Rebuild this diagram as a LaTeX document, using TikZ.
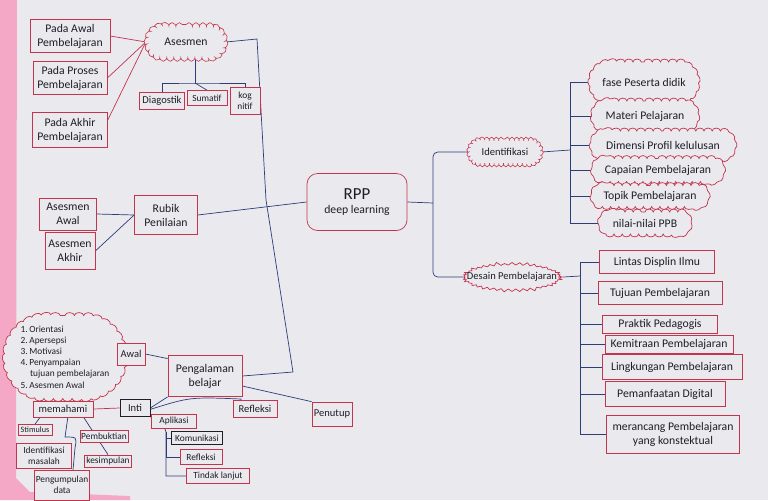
\documentclass[tikz,border=0pt]{standalone}
\usepackage{fontspec}
\setmainfont{Carlito}
\usetikzlibrary{shapes.symbols, shapes.misc, decorations.pathmorphing, backgrounds, positioning}

\definecolor{paper}{RGB}{234,233,238}
\definecolor{strip}{RGB}{244,168,198}
\definecolor{redpen}{RGB}{196,52,76}
\definecolor{bluepen}{RGB}{44,62,122}
\definecolor{ink}{RGB}{30,30,38}

\begin{document}
\begin{tikzpicture}[
        x=0.03cm, y=-0.03cm,
        wh/.code 2 args={\pgfmathsetlengthmacro\whw{#1*0.8536pt}\pgfmathsetlengthmacro\whh{#2*0.8536pt}%
            \edef\whset{\noexpand\tikzset{minimum width=\whw, minimum height=\whh}}\whset},
        box/.style={draw=redpen, line width=0.6pt, fill=paper, rectangle, inner sep=1pt, align=center, text=ink},
        blackbox/.style={box, draw=ink},
        loopy/.style={rounded rectangle, draw=redpen, line width=0.5pt, fill=paper, inner sep=1pt, text=ink, align=center,
            decorate, decoration={coil, aspect=0.6, segment length=#1, amplitude=1.6pt}},
        puff/.style={rounded rectangle, draw=redpen, line width=0.6pt, fill=paper, inner sep=1pt, text=ink, align=left,
            decorate, decoration={bumps, segment length=#1, amplitude=2.5pt}},
        burst/.style={starburst, starburst points=40, starburst point height=3pt, draw=redpen, line width=0.6pt, fill=paper, inner sep=0pt},
        link/.style={draw=bluepen, line width=0.6pt},
        redlink/.style={draw=redpen, line width=0.6pt}
    ]
\useasboundingbox (0,0) rectangle (768,500);
\begin{scope}[on background layer]
    \fill[paper] (0,0) rectangle (768,500);
    \fill[strip] (0,0) -- (17,0) -- (16,478) -- (30,492) -- (130,496) -- (130,500) -- (0,500) -- cycle;
\end{scope}

% Asesmen
\node[loopy=6pt, wh={82}{35}] (asesmen) at (186,42) {Asesmen};
\node[box, wh={80}{33}] (pawal) at (70,36) {Pada Awal\\Pembelajaran};
\node[box, wh={74}{33}] (pproses) at (70,78) {Pada Proses\\Pembelajaran};
\node[box, wh={75}{35}] (pakhir) at (70,130) {Pada Akhir\\Pembelajaran};
\node[box, wh={45}{17}, font=\small] (diag) at (162,101) {Diagostik};
\node[box, wh={40}{15}, font=\footnotesize] (sumatif) at (207,98) {Sumatif};
\node[box, wh={30}{27}, font=\footnotesize] (kog) at (245,101) {kog\\nitif};

% Rubik
\node[box, wh={63}{39}] (rubik) at (166,215) {Rubik\\Penilaian};
\node[box, wh={57}{32}] (asawal) at (68,214) {Asesmen\\Awal};
\node[box, wh={50}{37}] (asakhir) at (70,251) {Asesmen\\Akhir};

% RPP
\node[box, rounded corners=9pt, wh={100}{57}] (rpp) at (357,202) {{\Large RPP}\\deep learning};

% Identifikasi
\node[loopy=4pt, wh={75}{26}, font=\small] (ident) at (505,152) {Identifikasi};
\node[puff=14pt, wh={108}{40}] (fase) at (644,82) {fase Peserta didik};
\node[puff=14pt, wh={105}{30}] (materi) at (645,116) {Materi Pelajaran};
\node[puff=14pt, wh={143}{28}] (dimensi) at (663,145) {Dimensi Profil kelulusan};
\node[puff=14pt, wh={130}{23}] (capaian) at (658,170) {Capaian Pembelajaran};
\node[puff=14pt, wh={115}{21}] (topik) at (650,196) {Topik Pembelajaran};
\node[puff=14pt, wh={90}{22}] (nilai) at (645,223) {nilai-nilai PPB};

% Desain
\node[burst, wh={101}{31}, label={[font=\small, text=ink]center:Desain Pembelajaran}] (desain) at (512,277) {};
\node[box, wh={115}{23}] (lintas) at (657,262) {Lintas Displin Ilmu};
\node[box, wh={124}{23}] (tujuan) at (660,293) {Tujuan Pembelajaran};
\node[box, wh={115}{18}] (praktik) at (660,324) {Praktik Pedagogis};
\node[box, wh={128}{18}] (kemitraan) at (669,344) {Kemitraan Pembelajaran};
\node[box, wh={140}{25}] (lingkungan) at (672,367) {Lingkungan Pembelajaran};
\node[box, wh={120}{25}] (digital) at (665,394) {Pemanfaatan Digital};
\node[box, wh={133}{38}] (rancang) at (673,434) {merancang Pembelajaran\\yang konstektual};

% Pengalaman belajar
\node[puff=16pt, wh={100}{83}, font=\footnotesize] (pembuka) at (65,357) {1.\,Orientasi\\2.\,Apersepsi\\3.\,Motivasi\\4.\,Penyampaian\\\quad tujuan pembelajaran\\5.\,Asesmen Awal};
\node[box, wh={28}{22}, font=\small] (awal) at (131,354) {Awal};
\node[box, wh={74}{41}] (pengalaman) at (205,376) {Pengalaman\\belajar};
\node[box, wh={40}{24}, font=\small] (penutup) at (332,414) {Penutup};
\node[blackbox, wh={30}{17}, font=\small] (inti) at (135,408) {Inti};
\node[box, wh={44}{17}, font=\small] (refleksiA) at (255,409) {Refleksi};
\node[box, wh={60}{16}, font=\small] (memahami) at (63,409) {memahami};
\node[box, wh={45}{14}, font=\footnotesize] (aplikasi) at (174,421) {Aplikasi};
\node[blackbox, wh={51}{13}, font=\footnotesize] (komunikasi) at (197,438) {Komunikasi};
\node[box, wh={42}{15}, font=\footnotesize] (refleksiB) at (201,457) {Refleksi};
\node[box, wh={63}{15}, font=\footnotesize] (tindak) at (218,476) {Tindak lanjut};
\node[box, wh={34}{11}, font=\scriptsize] (stimulus) at (35,430) {Stimulus};
\node[box, wh={55}{25}, font=\footnotesize] (idmasalah) at (44,456) {Identifikasi\\masalah};
\node[box, wh={55}{30}, font=\footnotesize] (kumpul) at (62,485) {Pengumpulan\\data};
\node[box, wh={48}{12}, font=\footnotesize] (bukti) at (104,436) {Pembuktian};
\node[box, wh={47}{12}, font=\footnotesize] (simpul) at (108,461) {kesimpulan};

\coordinate (jA) at (195,83);
\coordinate (sp1) at (257,39);
\coordinate (sp2) at (266,200);
\coordinate (sp3) at (293,372);
\coordinate (jR) at (433,203);
\coordinate (jI) at (570,150);
\coordinate (jD) at (580,276);
\coordinate (rk) at (241,399);
\coordinate (jT) at (166,432);
\coordinate (m1) at (65,437);
\coordinate (m2) at (75,448);
\coordinate (kp) at (73,470);

\begin{scope}[on background layer]
    \draw[redlink] (pawal.east) -- (asesmen.west);
    \draw[redlink] (pproses.east) -- (asesmen.west);
    \draw[redlink] (pakhir.15) -- (asesmen.west);
    \draw[link] (asesmen.south -| jA) -- (jA);
    \draw[link] (diag.north) |- (jA) -| (kog.north);
    \draw[link] (jA) -- (sumatif.north);
    \draw[link] (asesmen.east) -- (sp1) -- (sp2) -- (sp3) -- (pengalaman.east);

    \draw[link] (asawal.east) -- (rubik.west);
    \draw[link] (asakhir.east) -- (rubik.west);
    \draw[link] (rubik.east) -- (rpp.west);

    \draw[link] (rpp.east) -- (jR);
    \draw[link, rounded corners=4pt] (ident.west) -| (jR) |- (desain.west);
    \draw[link] (ident.east) -- (jI);
    \foreach \n in {fase,materi,dimensi,capaian,topik,nilai}
        \draw[link] (jI) |- (\n.west);
    \draw[link] (desain.east) -- (jD);
    \foreach \n in {lintas,tujuan,praktik,kemitraan,lingkungan,digital,rancang}
        \draw[link] (jD) |- (\n.west);

    \draw[link] (pembuka.east) -- (awal.west);
    \draw[link] (awal.east) -- (pengalaman.155);
    \draw[link] (inti.east) -- (pengalaman.south west);
    \draw[link] (pengalaman.-15) -- (penutup.north west);
    \draw[redlink] (memahami.east) -- (inti.west);
    \draw[link] (inti.-5) .. controls (190,397) .. (rk) -- (rk |- refleksiA.north);
    \draw[link] (inti.south east) .. controls (162,420) .. (jT) |- (tindak.west);
    \draw[link] (jT) |- (komunikasi.west);
    \draw[link] (jT) |- (refleksiB.west);
    \draw[link] (memahami.-160) -- (stimulus.north);
    \draw[link] (memahami.-60) -- (m1) .. controls (77,437) .. (m2) -- (kp);
    \draw[link] (memahami.-22) -- (simpul.north);
\end{scope}
\end{tikzpicture}
\end{document}
